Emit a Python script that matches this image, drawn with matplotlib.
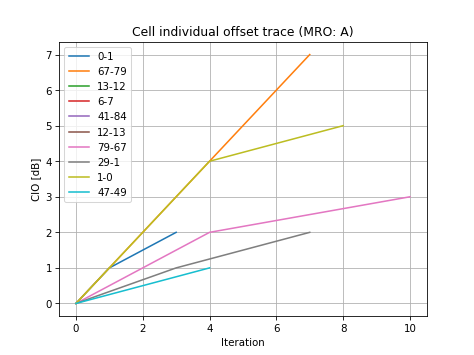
import matplotlib
matplotlib.use("Agg")
import matplotlib.pyplot as plt

labels = ["0-1", "67-79", "13-12", "6-7", "41-84", "12-13", "79-67", "29-1", "1-0", "47-49"]
iters = [
    [0, 1, 3],
    [0, 4, 7],
    [0],
    [0],
    [0],
    [0],
    [0, 4, 10],
    [0, 3, 7],
    [0, 4, 8],
    [0, 4],
]
cio = [
    [0, 1, 2],
    [0, 4, 7],
    [0],
    [0],
    [0],
    [0],
    [0, 2, 3],
    [0, 1, 2],
    [0, 4, 5],
    [0, 1],
]

fig, ax = plt.subplots(figsize=(6.4, 4.8), dpi=74.07)
for lab, x, y in zip(labels, iters, cio):
    ax.plot(x, y, label=lab)

ax.set_title("Cell individual offset trace (MRO: A)")
ax.set_xlabel("Iteration")
ax.set_ylabel("CIO [dB]")
ax.grid(True)
ax.legend(loc="upper left")
fig.savefig("out.png", dpi=74.07)
